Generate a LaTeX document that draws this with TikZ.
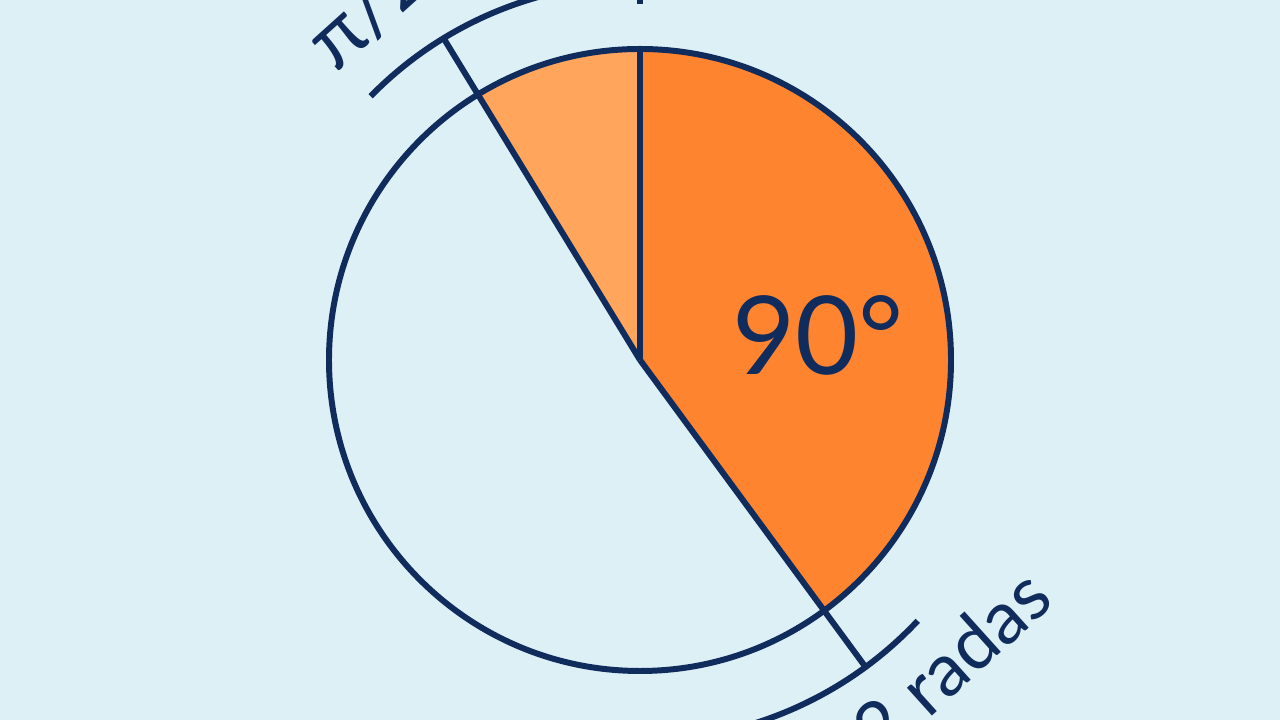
\documentclass[tikz,border=0pt]{standalone}
\usepackage{fontspec}
\setmainfont{Lato}
\usetikzlibrary{calc}

\definecolor{bgblue}{RGB}{221,240,246}
\definecolor{navy}{RGB}{16,44,92}
\definecolor{deeporange}{RGB}{255,132,48}
\definecolor{lightorange}{RGB}{255,165,92}

\begin{document}
\begin{tikzpicture}[line join=round]
    % Background
    \fill[bgblue] (-6.4,-3.6) rectangle (6.4,3.6);
    \useasboundingbox (-6.4,-3.6) rectangle (6.4,3.6);
    \coordinate (O) at (0,0);

    % Sectors
    \fill[deeporange] (O) -- (90:3.11) arc[start angle=90, end angle=-53.7, radius=3.11] -- cycle;
    \fill[lightorange] (O) -- (90:3.11) arc[start angle=90, end angle=121.4, radius=3.11] -- cycle;

    % Circle and radii
    \draw[navy, line width=1.7pt] (O) circle (3.11);
    \draw[navy, line width=1.7pt] (O) -- (90:3.11);
    \draw[navy, line width=1.7pt] (O) -- (121.4:3.77);
    \draw[navy, line width=1.7pt] (O) -- (-53.7:3.81);
    \draw[navy, line width=1.7pt] (90:3.56) -- (90:3.9);

    % Outer arcs
    \draw[navy, line width=1.7pt] (135.6:3.77) arc[start angle=135.6, end angle=80, radius=3.77];
    \draw[navy, line width=1.7pt] (-43.2:3.81) arc[start angle=-43.2, end angle=-75, radius=3.81];

    % Labels
    \node[navy, font=\fontsize{31}{31}\selectfont] (deg) at (1.78,0.25) {90°};
    \node[navy, font=\fontsize{23}{23}\selectfont, rotate=42, anchor=base west, inner sep=0pt] (top) at (-3.04,2.86) {π/2};
    \node[navy, font=\fontsize{21}{21}\selectfont, rotate=42, anchor=base east, inner sep=0pt] (bottom) at (4.17,-2.43) {π/2 radas};
\end{tikzpicture}
\end{document}
